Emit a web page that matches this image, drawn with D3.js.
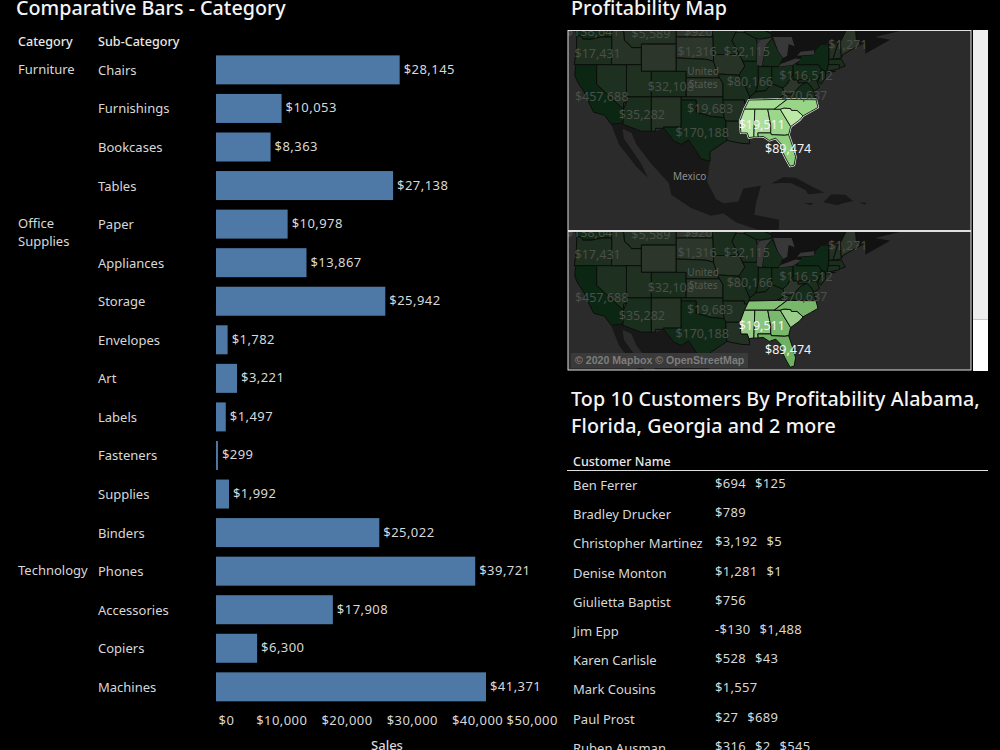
<!DOCTYPE html>
<html><head><meta charset="utf-8">
<script src="https://cdn.jsdelivr.net/npm/d3@7"></script>
<style>
html,body{margin:0;padding:0;background:#000;overflow:hidden}
svg{display:block;font-family:"Noto Sans",sans-serif}
</style></head><body>
<svg id="c" width="1000" height="750"></svg>
<script>
// ---------- bar chart data ----------
const categories = ["Furniture","Office\nSupplies","Technology"];
const subCategories = ["Chairs","Furnishings","Bookcases","Tables","Paper","Appliances","Storage","Envelopes","Art","Labels","Fasteners","Supplies","Binders","Phones","Accessories","Copiers","Machines"];
const subCategoryParent = [0,0,0,0,1,1,1,1,1,1,1,1,1,2,2,2,2];
const sales = [28145,10053,8363,27138,10978,13867,25942,1782,3221,1497,299,1992,25022,39721,17908,6300,41371];
const salesTicks = [0,10000,20000,30000,40000,50000];
// ---------- table data ----------
const customers = ["Ben Ferrer","Bradley Drucker","Christopher Martinez","Denise Monton","Giulietta Baptist","Jim Epp","Karen Carlisle","Mark Cousins","Paul Prost","Ruben Ausman"];
const customerValues = [[694,125],[789],[3192,5],[1281,1],[756],[-130,1488],[528,43],[1557],[27,689],[316,2,545]];
// ---------- map data: state outlines in lon/lat ----------
const stateNames = ["WA","OR","CA","NV","ID","MT","WY","UT","CO","AZ","NM","ND","SD","NE","KS","OK","TX","MN","IA","MO","AR","LA","WI","IL","MI","MIU","IN","OH","KY","VA","WV","PA","MD","NJ","NY","VT","NH","ME","MA","CT","TN","MS","AL","GA","FL","SC","NC"];
const stateOutlines = {
WA:[[-124.7,48.4],[-123,48.2],[-122.8,49],[-117,49],[-117,46],[-119,46],[-121,45.7],[-122.8,45.7],[-123,46.1],[-124,46.2]],
OR:[[-124.5,42],[-124.1,44],[-124,46.2],[-123,46.1],[-122.8,45.7],[-121,45.7],[-119,46],[-117,46],[-116.9,45],[-117,44],[-117,42]],
CA:[[-124.2,42],[-120,42],[-120,39],[-114.6,35],[-114.7,32.7],[-117.1,32.5],[-118.4,34],[-120.6,34.5],[-122,36.8],[-122.5,37.8],[-123.8,39.3],[-124.4,40.4]],
NV:[[-120,42],[-114,42],[-114,36.2],[-114.6,36],[-114.6,35],[-120,39]],
ID:[[-117,49],[-116,49],[-116,48],[-114.5,46.6],[-114.4,45.5],[-113.5,45],[-113,44.5],[-111,44.5],[-111,42],[-117,42],[-117,44],[-116.9,45],[-117,46]],
MT:[[-116,49],[-104,49],[-104,45],[-111,45],[-111,44.5],[-113,44.5],[-113.5,45],[-114.4,45.5],[-114.5,46.6],[-116,48]],
WY:[[-111,45],[-104,45],[-104,41],[-111,41]],
UT:[[-114,42],[-111,42],[-111,41],[-109,41],[-109,37],[-114,37]],
CO:[[-109,41],[-102,41],[-102,37],[-109,37]],
AZ:[[-114,37],[-109,37],[-109,31.3],[-111,31.3],[-114.8,32.5],[-114.7,32.7],[-114.6,35],[-114,36.2]],
NM:[[-109,37],[-103,37],[-103,32],[-106.6,32],[-106.5,31.8],[-108.2,31.8],[-108.2,31.3],[-109,31.3]],
ND:[[-104,49],[-97.2,49],[-96.6,46],[-104,46]],
SD:[[-104,46],[-96.6,46],[-96.5,42.5],[-98,42.8],[-104,43]],
NE:[[-104,43],[-98,42.8],[-96.5,42.5],[-95.3,40],[-102,40],[-102,41],[-104,41]],
KS:[[-102,40],[-95.3,40],[-94.6,39.1],[-94.6,37],[-102,37]],
OK:[[-103,37],[-94.6,37],[-94.4,33.6],[-97,33.8],[-100,34.5],[-100,36.5],[-103,36.5]],
TX:[[-103,36.5],[-100,36.5],[-100,34.5],[-97,33.8],[-94.4,33.6],[-94,33],[-94,31],[-93.8,29.7],[-95,29],[-97.2,27.7],[-97.2,26],[-99,26.4],[-100.5,28.5],[-101.5,29.8],[-103,29],[-104.5,29.6],[-106.5,31.8],[-106.6,32],[-103,32]],
MN:[[-97.2,49],[-95,49],[-92,48.3],[-89.6,48],[-92,46.7],[-92.8,45.5],[-91.3,43.5],[-96.5,43.5],[-96.6,46]],
IA:[[-96.5,43.5],[-91.3,43.5],[-90.2,41.8],[-91.4,40.4],[-95.7,40.6],[-96.5,42.5]],
MO:[[-95.7,40.6],[-91.4,40.4],[-90.2,38.8],[-89.2,37],[-89.7,36],[-90.3,36],[-90.3,36.5],[-94.6,36.5],[-94.6,39.1],[-95.3,40]],
AR:[[-94.6,36.5],[-90.3,36.5],[-90.3,36],[-89.7,36],[-91.2,33],[-94,33],[-94.4,33.6]],
LA:[[-94,33],[-91.2,33],[-91,31],[-89.7,31],[-89.4,30.2],[-89.2,29.1],[-91,29.2],[-93.8,29.7],[-94,31]],
WI:[[-92,46.7],[-90.5,46.7],[-88,45.8],[-87.7,45],[-87.8,42.5],[-90.6,42.5],[-91.3,43.5],[-92.8,45.5]],
IL:[[-90.6,42.5],[-87.8,42.5],[-87.5,41.7],[-87.5,39.3],[-88,37.8],[-89.2,37],[-90.2,38.8],[-91.4,40.4],[-90.2,41.8]],
MI:[[-86.8,41.8],[-84.8,41.7],[-83.4,41.7],[-82.5,43],[-83.5,44],[-84.7,45.8],[-86,44.8],[-86.5,43]],
MIU:[[-90.5,46.7],[-88,47.4],[-85,46.5],[-84.7,46],[-87,45.7],[-88,45.8]],
IN:[[-87.5,41.7],[-84.8,41.7],[-84.8,39.1],[-86,38],[-88,37.8],[-87.5,39.3]],
OH:[[-84.8,41.7],[-83.4,41.7],[-80.5,42],[-80.5,40.6],[-81.7,39],[-82.6,38.4],[-84.8,39.1]],
KY:[[-89.2,37],[-88,37.8],[-86,38],[-84.8,39.1],[-82.6,38.4],[-82,37.5],[-83.7,36.6],[-89.4,36.5]],
VA:[[-83.7,36.6],[-82,37.5],[-81,37.4],[-80,38],[-78.9,38.9],[-77.8,39.3],[-77,38.8],[-76.3,37.9],[-75.9,36.55],[-81.7,36.6]],
WV:[[-82.6,38.4],[-81.7,39],[-80.5,40.6],[-80.5,39.7],[-79.5,39.7],[-79.5,39.2],[-77.8,39.3],[-78.9,38.9],[-80,38],[-81,37.4],[-82,37.5]],
PA:[[-80.5,42],[-79.8,42.3],[-79.8,42],[-75.4,42],[-74.8,41.3],[-75.2,40],[-75.8,39.7],[-80.5,39.7]],
MD:[[-79.5,39.7],[-75.8,39.7],[-75.2,38.5],[-76.3,37.9],[-77,38.8],[-77.8,39.3],[-79.5,39.2]],
NJ:[[-75.2,40],[-74.8,41.3],[-74,41],[-74,40],[-74.9,39],[-75.5,39.5]],
NY:[[-79.8,42],[-79,43],[-79,43.3],[-76.5,43.5],[-76,44.2],[-74.8,45],[-73.3,45],[-73.4,42],[-73.7,41],[-72,41],[-74,40.7],[-74,41],[-74.8,41.3],[-75.4,42]],
VT:[[-73.3,45],[-71.5,45],[-72.5,42.8],[-73.3,42.8]],
NH:[[-71.5,45],[-71,45.3],[-70.8,43],[-72.5,42.8]],
ME:[[-71,45.3],[-70,46.7],[-69,47.4],[-68,47.3],[-67.8,45.7],[-67,44.9],[-70.5,43.5],[-70.8,43]],
MA:[[-73.3,42.8],[-70.8,42.8],[-70,41.8],[-71.2,41.5],[-71.8,42],[-73.4,42]],
CT:[[-73.4,42],[-71.2,42],[-71.2,41.4],[-73.7,41]],
TN:[[-90.3,35],[-89.7,36],[-89.4,36.5],[-83.7,36.6],[-81.7,36.6],[-84.3,35]],
MS:[[-91.2,33],[-90.3,35],[-88.2,35],[-88.4,30.3],[-89.4,30.2],[-89.7,31],[-91,31]],
AL:[[-88.2,35],[-85.6,35],[-85,32.3],[-85,31],[-87.6,31],[-87.5,30.3],[-88.4,30.3]],
GA:[[-85.6,35],[-83.1,35],[-81,32.1],[-81.4,30.7],[-82.2,30.6],[-84.9,30.7],[-85,31],[-85,32.3]],
FL:[[-87.6,31],[-85,31],[-84.9,30.7],[-82.2,30.6],[-81.4,30.7],[-80.5,28.4],[-80,26.8],[-80.3,25.3],[-81.1,25.1],[-81.8,26.2],[-82.7,27.8],[-82.8,29],[-84,30.1],[-85.3,29.7],[-86.5,30.4],[-87.5,30.3]],
SC:[[-83.1,35],[-82.3,35.2],[-81,35.1],[-80.8,34.8],[-79.7,34.8],[-78.5,33.9],[-79.2,33.2],[-81,32.1]],
NC:[[-84.3,35],[-81.7,36.6],[-75.9,36.55],[-75.5,35.3],[-77,34.6],[-78.5,33.9],[-79.7,34.8],[-80.8,34.8],[-81,35.1],[-82.3,35.2],[-83.1,35]]
};
const stateProfit = {WA:138641,OR:17431,CA:457688,NV:16729,ID:4382,MT:5589,WY:1603,UT:11220,CO:32108,AZ:35282,NM:4783,ND:920,SD:1316,NE:7465,KS:2914,OK:19683,TX:170188,MN:29863,IA:4580,MO:22205,AR:11678,LA:9217,WI:32115,IL:80166,MI:76270,MIU:76270,IN:53555,OH:78258,KY:36592,VA:70637,WV:1209,PA:116512,MD:23706,NJ:35764,NY:310876,VT:8929,NH:7292,ME:1271,MA:28634,CT:13384,TN:30662,MS:10771,AL:19511,GA:49096,FL:89474,SC:8482,NC:55603};
const highlightedStates = ["TN","MS","AL","GA","FL","SC","NC"];
const otherLand = [
 [[-130,62],[-58,62],[-58,47],[-64,46],[-61,45.6],[-66,43.6],[-66,45],[-67,44.9],[-67.8,45.7],[-68,47.3],[-69,47.4],[-70,46.7],[-71,45.3],[-74.8,45],[-76,44.2],[-79,43.3],[-79,42.8],[-83,42],[-82.5,43],[-84.7,46],[-89.6,48],[-95,49],[-123,49],[-130,52]],
 [[-117.1,32.5],[-114.7,32.7],[-111,31.3],[-108.2,31.3],[-106.5,31.8],[-104.5,29.6],[-103,29],[-101.5,29.8],[-100.5,28.5],[-99,26.4],[-97.2,26],[-97.8,22.3],[-96,19],[-94.5,18.2],[-91.5,18.5],[-90.5,21],[-87,21.5],[-88,18],[-88.3,16],[-83.3,15],[-83.5,11],[-85.5,11],[-87.5,13],[-92,14.5],[-94.5,16.2],[-97,15.8],[-101,17.3],[-105,19.8],[-105.5,22],[-109,25.5],[-112,29],[-113,31],[-114.8,31.7],[-114.5,30],[-111,25.5],[-109.7,23],[-112,25],[-115.5,29]],
 [[-84.9,21.9],[-82.5,23.1],[-80,23],[-77,21.5],[-74.2,20.2],[-77.5,19.9],[-78,20.7],[-81,22],[-83,22]],
 [[-74.4,18.4],[-72.8,19.9],[-70,19.8],[-68.4,18.6],[-70.5,18.2],[-71.6,17.8]],
 [[-78.3,18.3],[-76.3,18.2],[-77,17.8]],
 [[-67.2,18.4],[-65.7,18.3],[-66.2,17.9]]
];
const lakes = [
 [[-87.8,42],[-86.8,41.8],[-86.5,43],[-86,44.8],[-84.9,45.8],[-87,45.6],[-87.7,45]],
 [[-84.5,46],[-83.5,44],[-82.5,43],[-81.7,43.3],[-81.4,45],[-80.2,44.7],[-80.8,46]],
 [[-83.4,41.7],[-80.5,42],[-78.9,42.8],[-80,42.9],[-83,42.1]],
 [[-79.7,43.3],[-76.3,43.5],[-76.3,44.1],[-79,43.9]],
 [[-92,46.7],[-90.5,46.7],[-88,47.4],[-85,46.7],[-84.8,47.7],[-88.2,48.8],[-89.6,48]]
];
const mapLabelTexts = ["$138,641","$5,589","$920","$17,431","$1,316","$32,115","$1,271","$80,166","$116,512","$32,108","$70,637","$457,688","$19,683","$35,282","$170,188"];
const mapLabelLon = [-120.8,-109.1,-99.6,-119.8,-99.8,-89.8,-69.5,-89.2,-77.9,-105.1,-78.3,-119,-97.2,-110.9,-98.8];
const mapLabelLat = [46.7,46.5,46.8,43.6,43.9,43.9,44.9,39.5,40.3,38.6,37.3,37,35.2,34.2,31];
const placeNames = ["United","States"];
const placeLon = [-98.6,-98.6];
const placeLat = [41,39];
const activeLabels = ["$19,511","$89,474"];
const activeLon = [-86.8,-81.5];
const activeLat = [32.5,28.2];

const svg = d3.select("#c");
const ink = "#d8d8d8";
const numSpacing = "0.45px";
// ---------- titles ----------
const titleFont = "500 19.7px 'Noto Sans',sans-serif";
svg.append("text").attr("x",16).attr("y",15).style("font",titleFont).attr("fill","#f4f4f4").text("Comparative Bars - Category");
svg.append("text").attr("x",571).attr("y",15).style("font",titleFont).attr("fill","#f4f4f4").text("Profitability Map");
svg.append("text").attr("x",571).attr("y",406).style("font",titleFont).style("letter-spacing","0.1px").attr("fill","#f4f4f4").text("Top 10 Customers By Profitability Alabama,");
svg.append("text").attr("x",571).attr("y",433).style("font",titleFont).style("letter-spacing","0.1px").attr("fill","#f4f4f4").text("Florida, Georgia and 2 more");

// ---------- bars ----------
const x = d3.scaleLinear().domain([0,50000]).range([216,542.3]);
const y = d3.scaleBand().domain(subCategories).range([50.6,50.6+17*38.56]).paddingInner(0.248).paddingOuter(0.124);
const money = d3.format("$,.0f");
const fmt = v => v<0 ? "-$"+d3.format(",")(-v) : money(v);
svg.append("text").attr("x",18).attr("y",46).attr("font-size",12.6).attr("font-weight",500).attr("fill","#e8e8e8").text("Category");
svg.append("text").attr("x",98).attr("y",46).attr("font-size",12.6).attr("font-weight",500).attr("fill","#e8e8e8").text("Sub-Category");
const catText = svg.append("g").selectAll("text").data(categories).join("text")
  .attr("x",18).attr("font-size",13).attr("fill",ink)
  .attr("y",(d,i)=>y(subCategories[subCategoryParent.indexOf(i)])+18.8);
catText.each(function(d){
  const t=d3.select(this);
  d.split("\n").forEach((s,i)=>t.append("tspan").attr("x",18).attr("dy",i?18:0).text(s));
});
const rows = svg.append("g").selectAll("g").data(subCategories).join("g");
rows.append("text").attr("x",98).attr("y",d=>y(d)+y.bandwidth()/2+5).attr("font-size",13).attr("fill",ink).text(d=>d);
rows.append("rect").attr("x",x(0)).attr("y",d=>y(d)).attr("height",y.bandwidth())
  .attr("width",(d,i)=>x(sales[i])-x(0)).attr("fill","#4e79a7");
rows.append("text").attr("x",(d,i)=>x(sales[i])+4).attr("y",d=>y(d)+y.bandwidth()/2+4)
  .attr("font-size",13).style("letter-spacing",numSpacing).attr("fill",ink).text((d,i)=>money(sales[i]));
const axis = d3.axisBottom(x).tickValues(salesTicks).tickFormat(money).tickSize(0).tickPadding(0);
const axG = svg.append("g").attr("transform","translate(0,716)").call(axis);
axG.select(".domain").remove();
axG.selectAll("text").attr("font-size",13).style("letter-spacing",numSpacing).attr("fill",ink).style("font-family","'Noto Sans',sans-serif")
  .attr("text-anchor",d=>d===0?"start":d===50000?"end":"middle")
  .attr("dx",d=>d===0?2:d===50000?15:0);
svg.append("text").attr("x",387).attr("y",750).attr("text-anchor","middle").attr("font-size",13).attr("font-weight",500).attr("fill",ink).text("Sales");

// ---------- maps ----------
const proj = d3.geoMercator().scale(285).center([-75.5,35.2]).translate([818,108]);
const lineGen = d3.line();
const toPath = pts => lineGen(pts.map(p=>proj(p)))+"Z";
const dimColor = d3.scaleLog().domain([900,460000]).range(["#2f372c","#0b2713"]).clamp(true);
const defs = svg.append("defs");
function drawMap(idx,top,h,hiLo,hiHi,outlined){
  const id="clip"+idx;
  defs.append("clipPath").attr("id",id).append("rect").attr("x",568).attr("y",top).attr("width",403).attr("height",h);
  const g = svg.append("g").attr("clip-path",`url(#${id})`);
  const inner = g.append("g").attr("transform",`translate(0,${top-30.5})`);
  g.insert("rect",":first-child").attr("x",568).attr("y",top).attr("width",403).attr("height",h).attr("fill","#2b2b2b");
  inner.selectAll("path.land").data(otherLand).join("path").attr("class","land").attr("d",toPath)
    .attr("fill",(d,i)=>i===0?"#121212":"#181818");
  const hiColor = d3.scaleLog().domain([8000,90000]).range([hiLo,hiHi]);
  const isHi = n => highlightedStates.includes(n);
  inner.selectAll("path.st").data(stateNames).join("path").attr("class","st")
    .attr("d",n=>toPath(stateOutlines[n]))
    .attr("fill",n=>isHi(n)?hiColor(stateProfit[n]):dimColor(stateProfit[n]))
    .attr("stroke","#0b0f0a").attr("stroke-width",1).attr("stroke-linejoin","round");
  inner.selectAll("path.lake").data(lakes).join("path").attr("class","lake").attr("d",toPath).attr("fill","#383838");
  if(outlined){
    const hi = highlightedStates.map(n=>stateOutlines[n]);
    inner.selectAll("path.ol").data(hi).join("path").attr("class","ol").attr("d",toPath)
      .attr("fill","none").attr("stroke","#f2f2f2").attr("stroke-width",2.2).attr("stroke-linejoin","round");
    inner.selectAll("path.fillAgain").data(highlightedStates).join("path").attr("class","fillAgain")
      .attr("d",n=>toPath(stateOutlines[n]))
      .attr("fill",n=>hiColor(stateProfit[n])).attr("stroke","#111").attr("stroke-width",0.9);
  }
  inner.selectAll("text.dim").data(mapLabelTexts).join("text").attr("class","dim")
    .attr("x",(d,i)=>proj([mapLabelLon[i],mapLabelLat[i]])[0])
    .attr("y",(d,i)=>proj([mapLabelLon[i],mapLabelLat[i]])[1]+4.5)
    .attr("text-anchor","middle").attr("font-size",12.5).attr("fill","#4a4f48").text(d=>d);
  inner.selectAll("text.place").data(placeNames).join("text").attr("class","place")
    .attr("x",(d,i)=>proj([placeLon[i],placeLat[i]])[0])
    .attr("y",(d,i)=>proj([placeLon[i],placeLat[i]])[1]+3.5)
    .attr("text-anchor","middle").attr("font-size",10).attr("fill","#565a54").text(d=>d);
  inner.append("text").attr("x",proj([-101.3,23.3])[0]).attr("y",proj([-101.3,23.3])[1]+3.5)
    .attr("text-anchor","middle").attr("font-size",10).attr("fill","#8e8e8e").text("Mexico");
  inner.selectAll("text.act").data(activeLabels).join("text").attr("class","act")
    .attr("x",(d,i)=>proj([activeLon[i],activeLat[i]])[0])
    .attr("y",(d,i)=>proj([activeLon[i],activeLat[i]])[1]+4.5)
    .attr("text-anchor","middle").attr("font-size",12.5).attr("fill","#f6f6f6").text(d=>d);
  svg.append("rect").attr("x",568).attr("y",top).attr("width",403).attr("height",h)
    .attr("fill","none").attr("stroke","#e0e0e0").attr("stroke-width",1);
}
drawMap(1,30.5,200,"#bdeaa9","#8fd07f",true);
drawMap(2,231.5,138.5,"#9bd08c","#6fb162",false);
svg.append("rect").attr("x",571).attr("y",353).attr("width",177).attr("height",15).attr("fill","#3a3a3a");
svg.append("text").attr("x",575).attr("y",364).attr("font-size",10.6).attr("font-weight",700)
  .style("font-family","'Liberation Sans',sans-serif").attr("fill","#7d7d7d").text("© 2020 Mapbox © OpenStreetMap");
// scrollbar
svg.append("rect").attr("x",973).attr("y",30).attr("width",15).attr("height",341).attr("fill","#ffffff");
svg.append("rect").attr("x",973).attr("y",30).attr("width",15).attr("height",289).attr("fill","#eeeeee");
svg.append("line").attr("x1",973).attr("x2",988).attr("y1",319.5).attr("y2",319.5).attr("stroke","#c8c8c8");

// ---------- table ----------
svg.append("text").attr("x",573).attr("y",466).attr("font-size",12.5).attr("font-weight",500).attr("fill","#e8e8e8").text("Customer Name");
svg.append("line").attr("x1",567).attr("x2",988).attr("y1",470.5).attr("y2",470.5).attr("stroke","#e0e0e0");
const rowY = d3.scalePoint().domain(customers).range([485.4,748.4]);
const tr = svg.append("g").selectAll("g").data(customers).join("g");
tr.append("text").attr("x",573).attr("y",d=>rowY(d)+4.5).attr("font-size",13).attr("fill",ink).text(d=>d);
const vals = tr.append("text").attr("x",715).attr("y",d=>rowY(d)+2.5).attr("font-size",13).style("letter-spacing","0.3px").attr("fill",ink);
vals.selectAll("tspan").data((d,i)=>customerValues[i]).join("tspan")
  .attr("dx",(d,i)=>i?9:0).text(fmt);
</script></body></html>
